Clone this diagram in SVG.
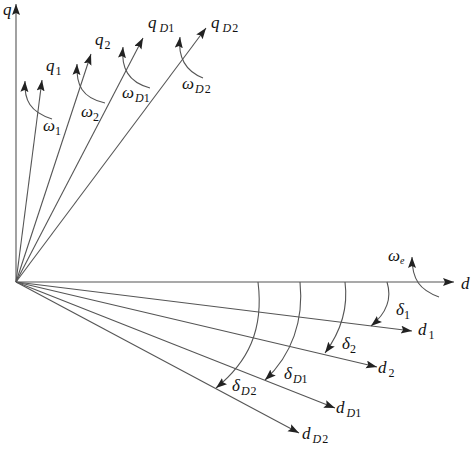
<svg xmlns="http://www.w3.org/2000/svg" width="474" height="449" viewBox="0 0 474 449">
<style>
.ln{stroke:#555;stroke-width:1.1;fill:none;marker-end:url(#ah)}
.t{font-family:"Liberation Serif","Times New Roman",serif;font-style:italic;font-size:17px;fill:#111}
.s{font-size:12px;font-style:normal}
.si{font-size:12px;font-style:italic}
</style>
<defs>
<marker id="ah" markerUnits="userSpaceOnUse" markerWidth="12" markerHeight="9" refX="11" refY="4" orient="auto">
<path d="M0,0 L11,4 L0,8 L2,4 z" fill="#222"/>
</marker>
</defs>
<rect width="474" height="449" fill="#fff"/>
<g id="connectors">
<line class="ln" x1="16" y1="282" x2="16" y2="4"/>
<line class="ln" x1="16" y1="282" x2="454" y2="282"/>
<line class="ln" x1="16" y1="282" x2="42" y2="80"/>
<line class="ln" x1="16" y1="282" x2="91" y2="54"/>
<line class="ln" x1="16" y1="282" x2="143" y2="38"/>
<line class="ln" x1="16" y1="282" x2="206" y2="28"/>
<line class="ln" x1="16" y1="282" x2="412" y2="331"/>
<line class="ln" x1="16" y1="282" x2="377" y2="367"/>
<line class="ln" x1="16" y1="282" x2="335" y2="408"/>
<line class="ln" x1="16" y1="282" x2="299" y2="433"/>
<path class="ln" d="M52,119 C30,112 24,100 25,81"/>
<path class="ln" d="M105,103 C82,98 76,85 77,64"/>
<path class="ln" d="M150,88 C128,82 121,68 123,47"/>
<path class="ln" d="M203,78 C183,70 178,55 180,37"/>
<path class="ln" d="M439,297 C420,290 412,280 412,257"/>
<path class="ln" d="M387,282 C392,298 388,312 371,326"/>
<path class="ln" d="M345,282 C348,305 342,330 325,353"/>
<path class="ln" d="M300,282 C304,320 292,355 265,380"/>
<path class="ln" d="M258,282 C264,330 248,362 216,388"/>
</g>
<g id="labels">
<text class="t" x="3" y="15">q</text>
<text class="t" x="46" y="71">q<tspan class="s" dx="1" dy="4">1</tspan></text>
<text class="t" x="95" y="45">q<tspan class="s" dx="1" dy="4">2</tspan></text>
<text class="t" x="148" y="28">q<tspan class="si" dx="3" dy="4">D</tspan><tspan class="s">1</tspan></text>
<text class="t" x="211" y="28">q<tspan class="si" dx="3" dy="4">D</tspan><tspan class="s" dx="1">2</tspan></text>
<text class="t" x="43" y="131">ω<tspan class="s" dy="4">1</tspan></text>
<text class="t" x="81" y="117">ω<tspan class="s" dy="4">2</tspan></text>
<text class="t" x="122" y="98">ω<tspan class="si" dx="1" dy="4">D</tspan><tspan class="s">1</tspan></text>
<text class="t" x="182" y="89">ω<tspan class="si" dx="1" dy="4">D</tspan><tspan class="s" dx="1">2</tspan></text>
<text class="t" x="388" y="261">ω<tspan class="si" style="font-size:10px" dy="3">e</tspan></text>
<text class="t" x="461" y="289">d</text>
<text class="t" x="418" y="335">d<tspan class="s" dx="2" dy="4">1</tspan></text>
<text class="t" x="378" y="373">d<tspan class="s" dx="2" dy="4">2</tspan></text>
<text class="t" x="336" y="413">d<tspan class="si" dx="2" dy="4">D</tspan><tspan class="s">1</tspan></text>
<text class="t" x="302" y="439">d<tspan class="si" dx="2" dy="4">D</tspan><tspan class="s" dx="1">2</tspan></text>
<text class="t" x="396" y="315">δ<tspan class="s" dy="4">1</tspan></text>
<text class="t" x="342" y="349">δ<tspan class="s" dy="4">2</tspan></text>
<text class="t" x="284" y="379">δ<tspan class="si" dx="1" dy="4">D</tspan><tspan class="s">1</tspan></text>
<text class="t" x="232" y="391">δ<tspan class="si" dx="1" dy="4">D</tspan><tspan class="s" dx="1">2</tspan></text>
</g>
</svg>
